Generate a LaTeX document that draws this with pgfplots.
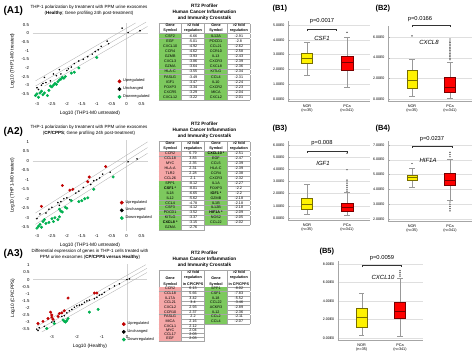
\documentclass[border=0pt]{standalone}
\usepackage[table]{xcolor}
\usepackage{pgfplots}
\pgfplotsset{compat=1.18}
\usepgfplotslibrary{statistics}
\usepackage{fontspec}
\setmainfont{Liberation Sans}
\definecolor{upred}{RGB}{192,0,0}
\definecolor{dngreen}{RGB}{0,176,80}
\definecolor{tgreen}{RGB}{125,201,94}
\definecolor{tpink}{RGB}{244,166,166}
\definecolor{yeldark}{RGB}{120,110,0}
\definecolor{reddark}{RGB}{120,0,0}
\newcolumntype{P}[1]{>{\centering\arraybackslash}p{#1}}
\newcommand\G[1]{\cellcolor{tgreen}#1}
\newcommand\R[1]{\cellcolor{tpink}#1}
\newcommand\tabsetup{\fontsize{3.7}{4.2}\selectfont\setlength\tabcolsep{0.6pt}\setlength\arrayrulewidth{0.3pt}\arrayrulecolor{gray!70}}
\newcommand\hs[1]{\textbf{\shortstack{#1}}}
\pgfplotsset{
 scat/.style={scale only axis, width=115pt, clip=false,
   axis line style={draw=none}, major tick length=0pt,
   tick label style={font=\fontsize{4.3}{5}\selectfont},
   label style={font=\fontsize{4.8}{5.5}\selectfont},
   xlabel style={yshift=1pt},
   /pgf/number format/assume math mode=true,
   legend style={draw=none, fill=none, font=\fontsize{3.9}{4.5}\selectfont, anchor=north west, row sep=-0.6pt, inner sep=0pt},
   legend cell align=left},
 up/.style={only marks, mark=*, mark size=1.3pt, color=upred, forget plot},
 un/.style={only marks, mark=*, mark size=0.55pt, color=black, forget plot},
 dn/.style={only marks, mark=*, mark size=1.3pt, color=dngreen, forget plot},
 guide/.style={gray!60, line width=0.35pt, forget plot},
 zero/.style={gray!35, line width=0.4pt, forget plot},
 bx/.style={scale only axis, clip=false,
   boxplot/draw direction=y,
   axis x line*=bottom, axis y line*=left,
   axis line style={gray!70, line width=0.4pt},
   ymajorgrids, grid style={gray!25, line width=0.3pt},
   xtick={1,2}, xticklabels={NOR\\(n=35),PCa\\(n=341)},
   xticklabel style={align=center, font=\fontsize{3.8}{4.4}\selectfont},
   yticklabel style={font=\fontsize{3.6}{4}\selectfont},
   yticklabel={\pgfmathprintnumber[fixed,fixed zerofill,precision=2]{\tick}E0},
   /pgf/number format/assume math mode=true,
   major tick length=1.5pt, tick style={gray!70}, xtick style={draw=none}},
 nor/.style={boxplot/box extend=0.27, boxplot/whisker extend=0.14,
   boxplot/every box/.style={draw=yeldark, fill=yellow, line width=0.4pt},
   boxplot/every whisker/.style={draw=gray!80, line width=0.4pt},
   boxplot/every median/.style={draw=yeldark, line width=0.5pt}},
 pca/.style={boxplot/box extend=0.29, boxplot/whisker extend=0.14,
   boxplot/every box/.style={draw=reddark, fill=red, line width=0.4pt},
   boxplot/every whisker/.style={draw=gray!80, line width=0.4pt},
   boxplot/every median/.style={draw=reddark, line width=0.5pt}},
 outl/.style={only marks, mark=*, mark size=0.4pt, color=gray!50!black},
}
\begin{document}
\begin{tikzpicture}[font=\fontsize{4.5}{6}\selectfont]
\useasboundingbox (0pt,0pt) rectangle (474pt,-362pt);

% ---------- panel labels ----------
\node[anchor=west, font=\fontsize{10}{12}\selectfont\bfseries] at (0pt,-11pt) {(A1)};
\node[anchor=west, font=\fontsize{10}{12}\selectfont\bfseries] at (0pt,-132pt) {(A2)};
\node[anchor=west, font=\fontsize{10}{12}\selectfont\bfseries] at (0pt,-254pt) {(A3)};
\node[anchor=west, font=\fontsize{7.5}{9}\selectfont\bfseries] at (269pt,-9pt) {(B1)};
\node[anchor=west, font=\fontsize{7.5}{9}\selectfont\bfseries] at (372pt,-9pt) {(B2)};
\node[anchor=west, font=\fontsize{7.5}{9}\selectfont\bfseries] at (269pt,-129pt) {(B3)};
\node[anchor=west, font=\fontsize{7.5}{9}\selectfont\bfseries] at (372pt,-129pt) {(B4)};
\node[anchor=west, font=\fontsize{7.5}{9}\selectfont\bfseries] at (316pt,-252pt) {(B5)};

% ---------- scatter titles ----------
\node[align=center] at (89pt,-10pt) {THP-1 polarization by treatment with PPM urine exosomes\\(\textbf{Healthy}; Gene profiling 24h post-treatment)};
\node[align=center] at (89pt,-130pt) {THP-1 polarization by treatment with PPM urine exosomes\\(\textbf{CP/CPPS}; Gene profiling 24h post-treatment)};
\node[align=center] at (90pt,-254.5pt) {Differential expression of genes in THP-1 cells treated with\\PPM urine exosomes (\textbf{CP/CPPS versus Healthy})};

% ---------- A1 scatter ----------
\begin{axis}[scat, at={(32.5pt,-99pt)}, anchor=south west, height=76pt,
  xmin=-3.15, xmax=0.7, ymin=-3.8, ymax=0.6,
  xtick={-3,-2.5,-2,-1.5,-1,-0.5,0,0.5}, ytick={-3.5,-3,-2.5,-2,-1.5,-1,-0.5,0,0.5},
  xlabel={Log10 (THP1-M0 untreated)}, ylabel={Log10 (THP1-M0 treated)},
  legend style={at={(0.74,0.29)}}]
\addplot[zero] coordinates {(-3.15,0) (0.7,0)};
\addplot[zero] coordinates {(0,-3.8) (0,0.6)};
\addplot[guide] coordinates {(-3.05,-2.75) (0.3,0.6)};
\addplot[guide] coordinates {(-3.05,-3.05) (0.65,0.65)};
\addplot[guide] coordinates {(-2.75,-3.05) (0.7,0.4)};
\addplot[un] coordinates {(-3.0,-3.15) (-2.95,-3.25) (-2.85,-3.0) (-2.8,-2.9) (-2.7,-2.85) (-2.75,-2.55) (-2.55,-2.75) (-2.45,-2.35) (-2.35,-2.45) (-2.25,-2.1) (-2.2,-2.35) (-2.0,-2.15) (-1.95,-2.05) (-1.85,-1.95) (-1.75,-1.75) (-1.6,-1.6) (-1.45,-1.5) (-1.3,-1.35) (-1.15,-1.2) (-1.05,-1.05) (-0.95,-0.95) (-0.85,-0.75) (-0.65,-0.45) (-0.6,-0.6) (0.05,0.05) (-0.15,0.3) (0.45,0.15)};
\addplot[dn] coordinates {(-3.05,-3.6) (-3.0,-3.5) (-2.95,-3.7) (-2.9,-3.45) (-2.85,-3.35) (-2.8,-3.55) (-2.75,-3.45) (-2.65,-3.6) (-2.6,-3.3) (-2.55,-3.05) (-2.5,-3.1) (-2.45,-3.0) (-2.4,-2.9) (-2.35,-2.95) (-2.3,-2.8) (-2.25,-2.7) (-2.2,-2.65) (-2.15,-2.55) (-2.1,-2.6) (-2.05,-2.5) (-1.85,-2.3) (-1.75,-2.25) (-1.6,-2.0) (-1.0,-1.4)};
\addlegendimage{only marks, mark=*, mark size=1.7pt, upred}\addlegendentry{Upregulated}
\addlegendimage{only marks, mark=*, mark size=1.7pt, black}\addlegendentry{Unchanged}
\addlegendimage{only marks, mark=*, mark size=1.7pt, dngreen}\addlegendentry{Downregulated}
\end{axis}

% ---------- A2 scatter ----------
\begin{axis}[scat, at={(32.5pt,-231pt)}, anchor=south west, height=91pt,
  xmin=-3.15, xmax=0.7, ymin=-3.7, ymax=1.1,
  xtick={-3,-2.5,-2,-1.5,-1,-0.5,0,0.5}, ytick={-3.5,-3,-2.5,-2,-1.5,-1,-0.5,0,0.5,1},
  xlabel={Log10 (THP1-M0 untreated)}, ylabel={Log10 (THP1-M0 treated)},
  legend style={at={(0.76,0.36)}}]
\addplot[zero] coordinates {(-3.15,0) (0.7,0)};
\addplot[zero] coordinates {(0,-3.7) (0,1.1)};
\addplot[guide] coordinates {(-3.05,-2.75) (0.7,1.0)};
\addplot[guide] coordinates {(-3.05,-3.05) (0.7,0.7)};
\addplot[guide] coordinates {(-3.05,-3.35) (0.7,0.4)};
\addplot[up] coordinates {(-2.85,-2.4) (-2.15,-1.3) (-1.9,-1.55) (-1.8,-1.5) (-1.3,-1.1) (-1.25,-0.85) (-0.7,-0.3)};
\addplot[un] coordinates {(-3.0,-3.05) (-2.9,-2.8) (-2.7,-2.75) (-2.6,-2.55) (-2.5,-2.45) (-2.3,-2.2) (-2.25,-2.35) (-2.2,-2.15) (-2.1,-2.0) (-2.0,-1.95) (-1.9,-2.05) (-1.7,-1.7) (-1.6,-1.6) (-1.45,-1.4) (-1.2,-1.25) (-1.1,-1.05) (-1.0,-1.0) (-0.9,-0.9) (-0.8,-0.7) (-0.55,-0.6) (0.05,-0.05) (0.35,0.1)};
\addplot[dn] coordinates {(-3.0,-3.55) (-2.95,-3.45) (-2.9,-3.35) (-2.85,-3.5) (-2.8,-3.2) (-2.75,-3.1) (-2.7,-3.3) (-2.6,-3.25) (-2.5,-3.05) (-2.45,-3.2) (-2.4,-3.0) (-2.3,-3.1) (-2.25,-2.95) (-2.25,-2.55) (-2.2,-2.65) (-2.15,-2.7) (-2.05,-2.45) (-2.0,-2.5) (-1.85,-2.1) (-1.6,-2.15) (-1.5,-2.1) (-1.4,-2.0) (-1.3,-1.95) (-1.1,-1.5) (-0.45,-0.85)};
\addlegendimage{only marks, mark=*, mark size=1.7pt, upred}\addlegendentry{Upregulated}
\addlegendimage{only marks, mark=*, mark size=1.7pt, black}\addlegendentry{Unchanged}
\addlegendimage{only marks, mark=*, mark size=1.7pt, dngreen}\addlegendentry{Downregulated}
\end{axis}

% ---------- A3 scatter ----------
\begin{axis}[scat, at={(33pt,-332pt)}, anchor=south west, width=114pt, height=68pt,
  xmin=-3.75, xmax=0.8, ymin=-3.7, ymax=1.1,
  xtick={-3,-2,-1,0}, ytick={-3.5,-3,-2.5,-2,-1.5,-1,-0.5,0,0.5,1},
  xlabel={Log10 (Healthy)}, ylabel={Log10 (CP/CPPS)},
  legend style={at={(0.78,0.18)}}]
\addplot[zero] coordinates {(-3.75,0) (0.8,0)};
\addplot[zero] coordinates {(0,-3.7) (0,1.1)};
\addplot[guide] coordinates {(-3.6,-3.3) (0.75,1.05)};
\addplot[guide] coordinates {(-3.6,-3.6) (0.8,0.8)};
\addplot[guide] coordinates {(-3.4,-3.7) (0.8,0.5)};
\addplot[up] coordinates {(-3.55,-3.1) (-3.35,-2.95) (-3.15,-2.75) (-3.05,-2.3) (-3.0,-2.5) (-2.95,-2.8) (-3.0,-2.65) (-2.75,-2.6) (-2.7,-2.4) (-2.6,-2.35) (-2.5,-2.2) (-2.35,-1.3) (-1.3,-0.95) (-1.2,-0.95)};
\addplot[un] coordinates {(-3.6,-3.5) (-3.55,-3.6) (-3.5,-3.4) (-3.3,-3.3) (-3.0,-3.0) (-2.9,-2.95) (-2.6,-2.6) (-2.5,-2.55) (-2.4,-2.35) (-2.3,-2.2) (-2.2,-2.1) (-2.1,-1.95) (-2.0,-1.85) (-1.9,-1.8) (-1.8,-1.75) (-1.7,-1.6) (-1.6,-1.5) (-1.5,-1.45) (-1.3,-1.35) (-1.2,-1.25) (-1.1,-1.1) (-1.0,-1.05) (-0.9,-0.9) (-0.7,-0.65) (-0.5,-0.45) (-0.3,-0.3) (0.0,0.0) (0.1,0.05)};
\addplot[dn] coordinates {(-3.2,-3.45) (-2.9,-3.1) (-2.55,-2.85) (-2.5,-2.95) (-2.45,-3.0) (-2.4,-2.9) (-2.35,-2.75) (-1.5,-2.3) (-1.15,-2.1)};
\addlegendimage{only marks, mark=*, mark size=1.7pt, upred}\addlegendentry{Upregulated}
\addlegendimage{only marks, mark=*, mark size=1.7pt, black}\addlegendentry{Unchanged}
\addlegendimage{only marks, mark=*, mark size=1.7pt, dngreen}\addlegendentry{Downregulated}
\end{axis}

% ---------- tables ----------
\node[align=center, font=\fontsize{4.7}{6}\selectfont\bfseries] at (204.5pt,-12.5pt) {RT2 Profiler\\Human Cancer Inflammation\\and Immunity Crosstalk};
\node[anchor=north, inner sep=0pt] at (204.5pt,-23pt) {\tabsetup\renewcommand\arraystretch{1.15}%
\begin{tabular}{|P{21.4pt}|P{21.4pt}|P{21.4pt}|P{21.4pt}|}
\hline
\hs{Gene\\Symbol} & \hs{>2 fold\\regulation} & \hs{Gene\\Symbol} & \hs{>2 fold\\regulation}\\ \hline
\G{CSF2} & -6.66 & \G{IL12A} & -2.91\\ \hline
\G{EGF} & -5.01 & \G{PDCD1} & -2.8\\ \hline
\G{CXCL10} & -4.92 & \G{CCL21} & -2.62\\ \hline
\G{CCR4} & -4.62 & \G{CCR10} & -2.58\\ \hline
\G{GZMB} & -3.93 & \G{IL13} & -2.43\\ \hline
\G{CXCL3} & -3.86 & \G{CXCR3} & -2.39\\ \hline
\G{GZMA} & -3.64 & \G{CXCL8} & -2.36\\ \hline
\G{HLA-C} & -3.55 & \G{KITLG} & -2.34\\ \hline
\G{FASLG} & -3.49 & \G{CCL4} & -2.31\\ \hline
\G{IGF1} & -3.47 & \G{IL10} & -2.24\\ \hline
\G{FOXP3} & -3.34 & \G{CXCR2} & -2.23\\ \hline
\G{CXCR5} & -3.29 & \G{MICA} & -2.04\\ \hline
\G{CXCL12} & -3.22 & \G{CXCL2} & -2.01\\ \hline
\end{tabular}};

\node[align=center, font=\fontsize{4.7}{6}\selectfont\bfseries] at (204.5pt,-130pt) {RT2 Profiler\\Human Cancer Inflammation\\and Immunity Crosstalk};
\node[anchor=north, inner sep=0pt] at (204.5pt,-141pt) {\tabsetup\renewcommand\arraystretch{1.1}%
\begin{tabular}{|P{21.4pt}|P{21.4pt}|P{21.4pt}|P{21.4pt}|}
\hline
\hs{Gene\\Symbol} & \hs{>2 fold\\regulation} & \hs{Gene\\Symbol} & \hs{>2 fold\\regulation}\\ \hline
\R{CCR2} & 6.79 & \G{\textbf{CXCL10 *}} & -2.51\\ \hline
\R{CCL18} & 3.83 & \G{EGF} & -2.47\\ \hline
\R{MYC} & 2.35 & \G{CCL5} & -2.39\\ \hline
\R{HLA-A} & 2.31 & \G{HLA-C} & -2.39\\ \hline
\R{TLR2} & 2.28 & \G{CCR4} & -2.38\\ \hline
\R{CCL26} & 2.1 & \G{CXCR3} & -2.32\\ \hline
\G{SPP1} & -8.12 & \G{IL1A} & -2.27\\ \hline
\G{\textbf{CSF1 *}} & -8.01 & \G{FOXP3} & -2.2\\ \hline
\G{IL18} & -6.65 & \G{\textbf{IGF1 *}} & -2.2\\ \hline
\G{IL12} & -5.62 & \G{GZMB} & -2.18\\ \hline
\G{CCL4} & -4.78 & \G{IL1B} & -2.18\\ \hline
\G{CSF3} & -4.12 & \G{IL12B} & -2.18\\ \hline
\G{PDCD1} & -3.52 & \G{\textbf{HIF1A *}} & -2.09\\ \hline
\G{KITLG} & -3.37 & \G{NOS2} & -2.05\\ \hline
\G{\textbf{CXCL8 *}} & -3.15 & \G{CCL22} & -2.02\\ \hline
\G{GZMA} & -2.76 & \multicolumn{2}{c}{}\\ \cline{1-2}
\end{tabular}};

\node[align=center, font=\fontsize{4.7}{6}\selectfont\bfseries] at (204.5pt,-259pt) {RT2 Profiler\\Human Cancer Inflammation\\and Immunity Crosstalk};
\node[anchor=north, inner sep=0pt] at (204.5pt,-270pt) {\tabsetup\renewcommand\arraystretch{1.03}%
\begin{tabular}{|P{21.4pt}|P{21.4pt}|P{21.4pt}|P{21.4pt}|}
\hline
\hs{Gene\\Symbol} & \hs{>2 fold\\regulation\\in CP/CPPS} & \hs{Gene\\Symbol} & \hs{>2 fold\\regulation\\in CP/CPPS}\\ \hline
\R{CCR2} & 6.13 & \G{SPP1} & -8.02\\ \hline
\R{CCL18} & 5.66 & \G{CSF1} & -7.83\\ \hline
\R{IL17A} & 3.42 & \G{IL18} & -5.52\\ \hline
\R{CCL21} & 3.4 & \G{CCL22} & -3.46\\ \hline
\R{CXCL2} & 2.93 & \G{ACKR3} & -2.89\\ \hline
\R{CCR10} & 2.37 & \G{IL12} & -2.36\\ \hline
\R{FASLG} & 2.2 & \G{CCL2} & -2.11\\ \hline
\R{MICA} & 2.16 & \G{CCL4} & -2.07\\ \hline
\R{CXCL1} & 2.12 & \multicolumn{2}{c}{}\\ \cline{1-2}
\R{MYC} & 2.04 & \multicolumn{2}{c}{}\\ \cline{1-2}
\R{CCL17} & 2.03 & \multicolumn{2}{c}{}\\ \cline{1-2}
\R{EGF} & 2.03 & \multicolumn{2}{c}{}\\ \cline{1-2}
\end{tabular}};

% ---------- B1 ----------
\begin{axis}[bx, at={(288pt,-101.2pt)}, anchor=south west, width=82pt, height=79.9pt,
  xmin=0.525, xmax=2.575, ymin=-0.15, ymax=5.25, ytick={0,1,2,3,4,5}]
\addplot[nor, boxplot prepared={draw position=1, lower whisker=1.62, lower quartile=2.41, median=2.75, upper quartile=3.09, upper whisker=3.83}] coordinates {};
\addplot[pca, boxplot prepared={draw position=2, lower whisker=0.79, lower quartile=1.96, median=2.45, upper quartile=2.86, upper whisker=4.15}] coordinates {};
\addplot[outl] coordinates {(2,4.5)};
\end{axis}
% ---------- B2 ----------
\begin{axis}[bx, at={(388pt,-101.4pt)}, anchor=south west, width=84pt, height=74.9pt,
  xmin=0.368, xmax=2.58, ymin=-0.2, ymax=7, ytick={0,2,4,6}]
\addplot[nor, boxplot prepared={draw position=1, lower whisker=0.32, lower quartile=1.06, median=1.86, upper quartile=2.82, upper whisker=3.85}] coordinates {};
\addplot[pca, boxplot prepared={draw position=2, lower whisker=0.06, lower quartile=0.73, median=1.2, upper quartile=2.1, upper whisker=3.6}] coordinates {};
\addplot[outl] coordinates {(1,6.1) (2,3.8) (2,3.95) (2,4.1) (2,4.25) (2,4.4) (2,4.55) (2,4.7) (2,4.85) (2,5.0) (2,5.15) (2,5.3) (2,5.45) (2,5.6) (2,5.8)};
\end{axis}
% ---------- B3 ----------
\begin{axis}[bx, at={(288pt,-220.4pt)}, anchor=south west, width=82pt, height=79.3pt,
  xmin=0.525, xmax=2.575, ymin=-0.2, ymax=6.3, ytick={0,1,2,3,4,5,6}]
\addplot[nor, boxplot prepared={draw position=1, lower whisker=0.3, lower quartile=0.71, median=1.1, upper quartile=1.61, upper whisker=2.75}] coordinates {};
\addplot[pca, boxplot prepared={draw position=2, lower whisker=0.25, lower quartile=0.52, median=0.85, upper quartile=1.2, upper whisker=2.1}] coordinates {};
\addplot[outl] coordinates {(2,2.2) (2,2.35) (2,2.5) (2,2.65) (2,2.8) (2,2.95) (2,3.1) (2,3.95) (2,5.3)};
\end{axis}
% ---------- B4 ----------
\begin{axis}[bx, at={(388pt,-221.2pt)}, anchor=south west, width=84pt, height=80.7pt,
  xmin=0.368, xmax=2.58, ymin=1.85, ymax=7.3, ytick={2,3,4,5,6,7}]
\addplot[nor, boxplot prepared={draw position=1, lower whisker=4.14, lower quartile=4.59, median=4.79, upper quartile=4.97, upper whisker=5.42}] coordinates {};
\addplot[pca, boxplot prepared={draw position=2, lower whisker=3.28, lower quartile=4.3, median=4.64, upper quartile=5.09, upper whisker=6.03}] coordinates {};
\addplot[outl] coordinates {(1,5.75) (2,6.2) (2,6.35) (2,6.5) (2,3.15) (2,3.0) (2,2.85) (2,2.7) (2,2.55)};
\end{axis}
% ---------- B5 ----------
\begin{axis}[bx, at={(337.7pt,-339.9pt)}, anchor=south west, width=85.3pt, height=78.6pt,
  xmin=0.373, xmax=2.6, ymin=-0.2, ymax=8.3, ytick={0,2,4,6,8}]
\addplot[nor, boxplot prepared={draw position=1, lower whisker=0.32, lower quartile=1.16, median=2.24, upper quartile=3.21, upper whisker=4.83}] coordinates {};
\addplot[pca, boxplot prepared={draw position=2, lower whisker=0.25, lower quartile=2.13, median=2.95, upper quartile=3.93, upper whisker=6.5}] coordinates {};
\addplot[outl] coordinates {(2,6.7) (2,6.9) (2,7.1) (2,7.3)};
\end{axis}

% ---------- p-values, brackets, gene names ----------
\tikzset{pv/.style={font=\fontsize{5.8}{7}\selectfont}, gn/.style={font=\fontsize{6}{7}\selectfont\itshape}, br/.style={gray!40!black, line width=0.4pt}}
\node[pv] at (322pt,-21.5pt) {p=0.0017};
\draw[br] (307pt,-31pt) -- (307pt,-29pt) -- (336pt,-29pt) -- (336pt,-31pt);
\node[gn] at (322pt,-38pt) {CSF1};
\node[pv] at (420pt,-19.5pt) {p=0.0166};
\draw[br] (412pt,-27pt) -- (412pt,-25pt) -- (450pt,-25pt) -- (450pt,-27pt);
\node[gn] at (429pt,-42pt) {CXCL8};
\node[pv] at (322pt,-143.5pt) {p=0.008};
\draw[br] (307pt,-153pt) -- (307pt,-151pt) -- (347pt,-151pt) -- (347pt,-153pt);
\node[gn] at (323pt,-163pt) {IGF1};
\node[pv] at (432pt,-139pt) {p=0.0237};
\draw[br] (412pt,-148pt) -- (412pt,-146pt) -- (452pt,-146pt) -- (452pt,-148pt);
\node[gn] at (428pt,-160pt) {HIF1A};
\node[pv] at (382pt,-258pt) {p=0.0059};
\draw[br] (362pt,-267pt) -- (362pt,-265pt) -- (401pt,-265pt) -- (401pt,-267pt);
\node[gn] at (383pt,-277pt) {CXCL10};
\end{tikzpicture}
\end{document}
